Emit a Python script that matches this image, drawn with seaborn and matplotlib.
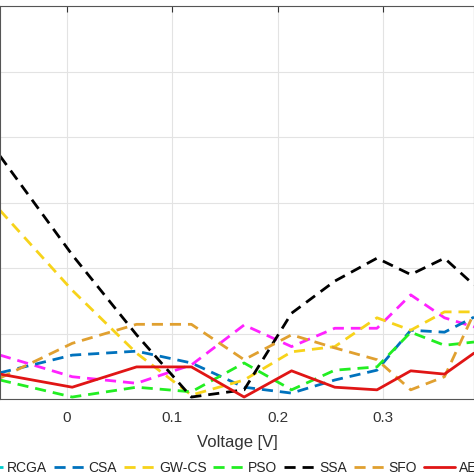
import matplotlib
matplotlib.use("Agg")
import matplotlib.pyplot as plt
from matplotlib.lines import Line2D
import seaborn as sns
import pandas as pd

voltage = [-0.0635, 0.005, 0.066, 0.118, 0.168, 0.213, 0.254, 0.294, 0.326, 0.358, 0.386]
magenta_s = [0.67, 0.34, 0.24, 0.52, 1.13, 0.80, 1.08, 1.08, 1.59, 1.24, 1.10]
csa = [0.40, 0.67, 0.73, 0.55, 0.18, 0.09, 0.29, 0.44, 1.05, 1.02, 1.25]
gwcs = [2.88, 1.66, 0.70, 0.06, 0.29, 0.72, 0.80, 1.24, 1.05, 1.33, 1.33]
pso = [0.29, 0.03, 0.18, 0.11, 0.55, 0.14, 0.44, 0.49, 1.02, 0.82, 0.87]
ssa = [3.71, 2.20, 0.98, 0.03, 0.14, 1.31, 1.80, 2.15, 1.90, 2.15, 1.74]
sfo = [0.32, 0.85, 1.14, 1.14, 0.60, 0.98, 0.78, 0.60, 0.14, 0.34, 1.31]
aeo = [0.38, 0.18, 0.49, 0.49, 0.03, 0.43, 0.18, 0.14, 0.43, 0.38, 0.70]

DASH = (4, 2.5)
series = [("MAG", magenta_s, "#FF22FF", DASH),
          ("CSA", csa, "#0072BD", DASH),
          ("GW-CS", gwcs, "#F7D31A", DASH),
          ("PSO", pso, "#22EE22", DASH),
          ("SSA", ssa, "#000000", DASH),
          ("SFO", sfo, "#E0A030", DASH),
          ("AEO", aeo, "#E01515", "")]

sns.set_style("white")
plt.rcParams['font.family'] = ['Liberation Sans', 'DejaVu Sans']
fig = plt.figure(figsize=(4.74, 4.74), dpi=100)
ax = fig.add_axes([0, (474 - 399) / 474, 1, (399 - 6) / 474])

rows = []
for name, vals, c, d in series:
    for v, y in zip(voltage, vals):
        rows.append({"V": v, "val": y, "s": name})
df = pd.DataFrame(rows)
pal = {n: c for n, _, c, _ in series}
dashes = {n: d for n, _, _, d in series}
sns.lineplot(data=df, x="V", y="val", hue="s", style="s", palette=pal, dashes=dashes,
             linewidth=2, ax=ax, legend=False)

ax.set_xlim(-0.0635, 0.386)
ax.set_ylim(0, 6)
ax.set_xticks([0, 0.1, 0.2, 0.3])
ax.set_xticklabels(["0", "0.1", "0.2", "0.3"])
ax.set_yticks(range(7))
ax.set_yticklabels([])
ax.grid(True, color="#e3e3e3", linewidth=0.8)
for s in ax.spines.values():
    s.set_color("#555555")
ax.tick_params(axis="x", labelsize=11, colors="#333333", length=4, direction="in", top=True, pad=9)
ax.tick_params(axis="y", length=0)
ax.set_xlabel("Voltage [V]", fontsize=12, color="#333333", labelpad=7)
ax.set_ylabel("")

handles = [Line2D([], [], color="#00CCCC", lw=2, ls=(0, DASH))]
labels = ["RCGA"]
for name, vals, c, d in series[1:]:
    handles.append(Line2D([], [], color=c, lw=2, ls=(0, d) if d else "-"))
    labels.append(name)
fig.legend(handles, labels, loc="lower left", bbox_to_anchor=(-0.085, -0.028), ncol=7,
           frameon=False, fontsize=10, handlelength=2.2, handletextpad=0.3, columnspacing=0.5)
fig.savefig("out.png", dpi=100)
